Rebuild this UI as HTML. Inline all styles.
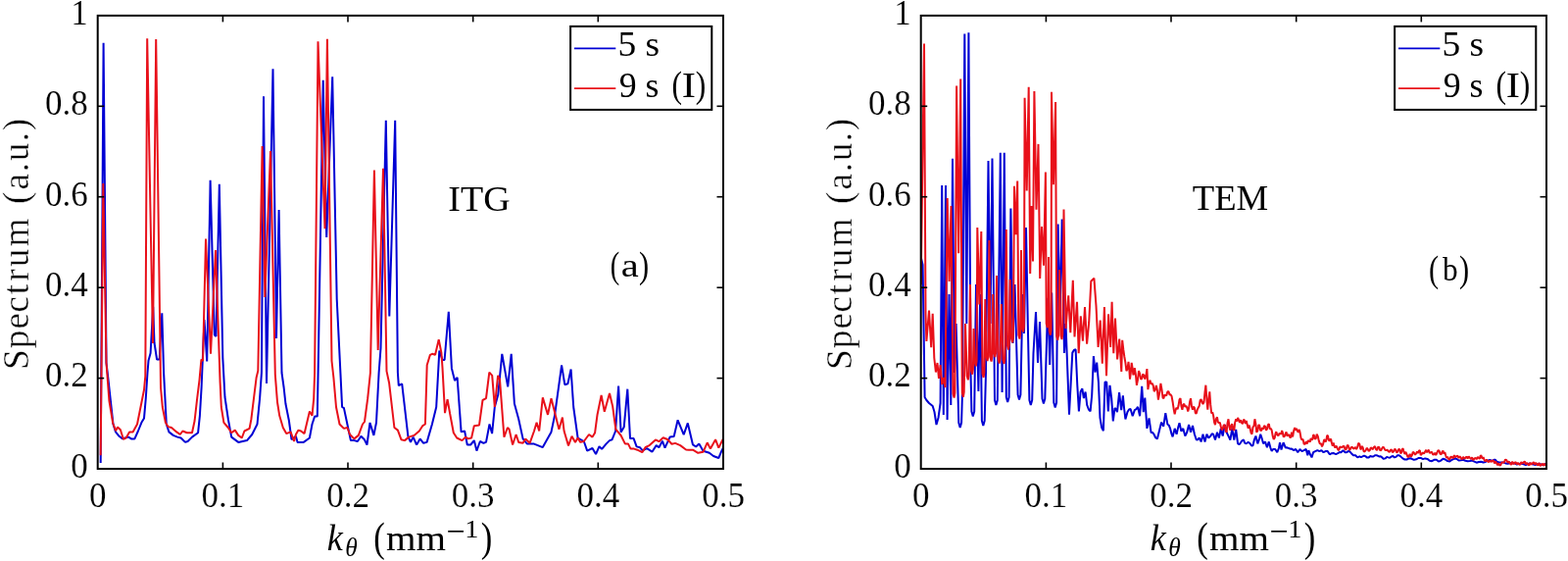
<!DOCTYPE html>
<html><head><meta charset="utf-8"><style>
html,body{margin:0;padding:0;background:#fff;width:1600px;height:572px;overflow:hidden}
svg{display:block}
.t{font-family:"Liberation Serif",serif;font-size:35px;fill:#000;stroke:#fff;stroke-width:0.15px}
.p{font-family:"Liberation Serif",serif;font-size:100px;fill:#000}
.q{font-family:"Liberation Serif",serif;font-size:100px;fill:#000;stroke:#fff;stroke-width:1.1px}
</style></head><body>
<svg width="1600" height="572" viewBox="0 0 1600 572">
<defs>
<clipPath id="c0"><rect x="99.7" y="15.9" width="638.3" height="462.1"/></clipPath>
<clipPath id="c840"><rect x="939.7" y="15.9" width="638.3" height="462.1"/></clipPath>
</defs>
<g clip-path="url(#c0)">
<polyline points="102.7,472.0 105.6,43.8 108.5,370.0 110.3,385.0 115.5,432.5 118.0,440.4 121.6,444.8 125.1,447.4 127.8,446.5 131.2,445.6 133.9,447.4 137.4,447.4 140.9,439.5 144.4,430.8 147.0,426.4 148.8,406.0 150.5,380.0 151.5,367.8 153.6,360.0 156.2,312.8 157.5,349.5 160.1,366.5 162.7,366.5 165.3,319.4 167.1,380.0 169.8,432.5 172.4,440.4 176.8,443.9 181.1,445.6 184.6,446.5 189.0,450.9 191.6,450.0 196.0,445.6 202.1,441.2 203.9,423.8 205.6,395.0 208.5,326.0 211.2,368.5 214.6,183.8 218.8,341.5 220.5,343.0 223.8,187.7 227.3,364.6 229.5,405.0 232.8,427.2 236.2,445.6 243.2,450.9 252.0,449.1 257.2,443.0 262.5,432.5 265.1,406.2 266.9,380.0 269.0,98.2 272.0,391.0 278.5,70.2 282.0,345.0 284.6,214.0 287.5,380.0 289.6,395.0 291.4,411.5 294.9,429.0 297.5,448.2 301.9,444.8 303.6,450.9 309.8,450.9 315.9,446.5 318.5,432.5 321.1,424.6 323.8,424.6 324.6,380.0 329.7,81.8 333.2,242.0 339.2,78.3 343.7,305.0 347.4,380.0 349.1,415.0 350.9,415.9 354.4,432.5 357.9,449.1 361.4,449.1 364.9,450.0 368.4,444.8 371.9,448.2 374.5,453.5 377.5,431.0 381.4,443.9 384.0,430.8 386.6,380.0 388.5,355.0 393.8,122.7 397.3,322.5 403.2,122.7 405.9,380.0 406.8,393.1 410.2,391.4 416.4,444.8 419.0,450.9 421.6,445.6 425.1,453.5 428.6,447.4 432.1,451.8 435.6,450.9 440.9,432.5 445.2,415.0 448.3,357.6 451.5,367.0 453.6,367.0 457.8,317.8 460.9,375.4 464.0,388.0 466.6,384.9 470.6,440.4 474.1,439.5 476.8,453.5 480.2,453.5 483.8,449.1 486.4,459.6 489.9,450.0 493.4,451.8 496.0,450.9 499.5,432.5 502.1,442.1 504.8,415.0 508.2,402.8 512.3,360.8 518.2,394.3 521.7,360.8 524.9,411.5 529.2,427.2 533.6,447.4 538.0,452.6 545.0,452.6 553.8,456.1 562.5,440.4 566.0,423.8 573.1,372.3 576.3,392.2 579.4,391.2 582.6,376.5 585.2,415.0 589.6,446.5 595.8,450.0 599.2,459.6 604.5,457.0 608.0,463.1 611.5,455.2 614.1,457.9 618.5,452.6 622.0,449.1 624.6,448.2 628.1,439.5 631.1,393.6 633.6,440.8 636.7,435.6 640.3,396.7 643.0,447.1 646.6,447.1 649.6,455.4 653.1,456.3 655.7,459.4 660.1,457.2 665.4,460.7 669.7,454.1 672.4,456.3 675.9,449.7 678.5,456.7 683.7,445.4 687.7,444.9 691.6,428.3 697.7,443.2 701.8,431.4 707.0,453.4 710.2,455.5 713.3,452.4 717.5,459.7 723.8,461.8 728.0,465.0 733.3,467.0 736.4,459.7 738.5,455.5" fill="none" stroke="#0000d4" stroke-width="2" stroke-linejoin="bevel"/>
<polyline points="102.7,464.2 105.3,187.0 108.5,370.0 111.4,408.5 115.2,431.5 118.1,439.2 120.0,435.4 122.9,438.3 126.0,448.0 128.6,446.5 132.1,440.4 135.6,440.4 140.0,432.5 143.5,415.0 147.0,397.5 148.3,383.5 150.2,39.2 156.0,350.0 159.2,40.1 164.0,395.0 165.8,415.0 168.9,430.8 171.5,435.1 175.0,436.0 180.2,440.4 183.8,443.0 186.4,439.5 190.8,441.2 196.0,441.2 198.6,429.0 201.2,406.2 203.5,387.7 205.4,366.5 207.0,368.0 210.0,243.5 215.0,360.8 220.0,255.0 224.6,390.0 225.8,415.0 228.4,430.8 232.8,436.0 236.2,441.2 239.8,438.6 243.2,443.9 246.8,446.5 249.4,439.5 254.6,436.9 256.4,427.2 259.0,406.2 261.6,385.0 263.3,378.0 267.6,148.9 270.3,303.0 276.0,154.1 280.8,381.8 283.0,410.0 285.2,423.8 288.8,436.0 292.2,442.1 296.6,440.4 300.1,450.0 301.9,443.0 304.5,438.6 307.1,439.5 310.6,442.1 315.9,419.4 318.5,423.8 320.2,406.2 321.1,380.0 324.5,42.2 331.5,233.2 333.9,39.8 338.5,368.0 340.4,385.0 343.0,415.0 346.5,432.5 350.9,436.9 354.4,436.0 357.0,443.0 361.4,447.4 365.8,443.9 370.0,432.5 372.0,430.0 375.2,406.2 377.9,380.0 381.9,173.5 385.7,357.0 391.0,171.7 394.5,378.4 397.1,390.5 402.4,436.0 405.9,438.6 409.4,448.2 412.9,449.1 417.2,445.6 422.5,443.9 427.8,439.5 431.2,434.2 433.9,432.5 435.7,372.3 438.9,361.8 441.0,360.8 444.1,361.8 447.7,346.1 450.4,359.7 451.5,375.0 454.0,421.1 456.6,407.1 459.2,422.0 462.8,441.2 466.2,446.5 471.5,449.1 475.0,445.6 477.6,447.4 481.1,446.5 483.8,434.2 489.0,433.4 492.5,408.0 496.0,406.2 499.3,379.6 502.2,382.8 504.8,415.0 508.1,382.8 510.0,387.0 514.4,445.6 517.9,436.0 519.6,437.8 523.1,453.5 526.6,443.0 529.2,450.9 533.6,451.8 536.2,447.4 540.6,451.8 545.0,439.5 547.6,430.8 550.2,439.5 553.8,405.4 559.0,422.9 562.5,406.2 566.9,423.8 570.4,437.8 573.9,425.5 575.6,439.5 580.0,454.4 583.5,444.8 587.0,450.9 589.6,446.5 592.2,450.9 595.8,450.0 601.0,443.0 604.5,445.6 607.1,441.2 609.5,423.0 613.6,403.0 616.8,419.8 622.0,401.0 625.2,414.6 628.3,437.7 633.6,444.0 637.8,452.4 640.9,452.4 643.5,457.6 647.0,457.6 650.4,458.7 655.3,461.1 658.8,455.9 662.7,454.1 668.9,448.4 672.4,450.2 676.7,446.2 681.1,448.0 685.5,452.8 689.0,451.9 694.2,454.1 700.0,458.5 702.9,458.7 707.0,458.7 712.3,461.8 717.5,460.8 721.7,451.3 724.9,457.6 730.1,448.2 733.3,456.6 737.5,448.2 738.5,447.0" fill="none" stroke="#e8101a" stroke-width="2" stroke-linejoin="bevel"/>
</g>
<rect x="99.7" y="15.9" width="638.3" height="462.1" fill="none" stroke="#000" stroke-width="2"/>
<text x="99.7" y="516.7" text-anchor="middle" class="t">0</text>
<line x1="227.4" y1="478.0" x2="227.4" y2="471.5" stroke="#000" stroke-width="1.6"/>
<line x1="227.4" y1="15.9" x2="227.4" y2="22.4" stroke="#000" stroke-width="1.6"/>
<text x="227.4" y="516.7" text-anchor="middle" class="t">0.1</text>
<line x1="355.0" y1="478.0" x2="355.0" y2="471.5" stroke="#000" stroke-width="1.6"/>
<line x1="355.0" y1="15.9" x2="355.0" y2="22.4" stroke="#000" stroke-width="1.6"/>
<text x="355.0" y="516.7" text-anchor="middle" class="t">0.2</text>
<line x1="482.7" y1="478.0" x2="482.7" y2="471.5" stroke="#000" stroke-width="1.6"/>
<line x1="482.7" y1="15.9" x2="482.7" y2="22.4" stroke="#000" stroke-width="1.6"/>
<text x="482.7" y="516.7" text-anchor="middle" class="t">0.3</text>
<line x1="610.3" y1="478.0" x2="610.3" y2="471.5" stroke="#000" stroke-width="1.6"/>
<line x1="610.3" y1="15.9" x2="610.3" y2="22.4" stroke="#000" stroke-width="1.6"/>
<text x="610.3" y="516.7" text-anchor="middle" class="t">0.4</text>
<text x="738.0" y="516.7" text-anchor="middle" class="t">0.5</text>
<text x="89.7" y="486.9" text-anchor="end" class="t">0</text>
<line x1="99.7" y1="385.6" x2="106.2" y2="385.6" stroke="#000" stroke-width="1.6"/>
<line x1="738.0" y1="385.6" x2="731.5" y2="385.6" stroke="#000" stroke-width="1.6"/>
<text x="89.7" y="394.4" text-anchor="end" class="t">0.2</text>
<line x1="99.7" y1="293.2" x2="106.2" y2="293.2" stroke="#000" stroke-width="1.6"/>
<line x1="738.0" y1="293.2" x2="731.5" y2="293.2" stroke="#000" stroke-width="1.6"/>
<text x="89.7" y="302.0" text-anchor="end" class="t">0.4</text>
<line x1="99.7" y1="200.7" x2="106.2" y2="200.7" stroke="#000" stroke-width="1.6"/>
<line x1="738.0" y1="200.7" x2="731.5" y2="200.7" stroke="#000" stroke-width="1.6"/>
<text x="89.7" y="209.6" text-anchor="end" class="t">0.6</text>
<line x1="99.7" y1="108.3" x2="106.2" y2="108.3" stroke="#000" stroke-width="1.6"/>
<line x1="738.0" y1="108.3" x2="731.5" y2="108.3" stroke="#000" stroke-width="1.6"/>
<text x="89.7" y="117.2" text-anchor="end" class="t">0.8</text>
<text x="89.7" y="24.7" text-anchor="end" class="t">1</text>
<rect x="582.1" y="26.9" width="144.2" height="85" fill="#fff" stroke="#000" stroke-width="2"/>
<line x1="586" y1="49.4" x2="628.3" y2="49.4" stroke="#0000d4" stroke-width="1.8"/>
<line x1="586" y1="90.2" x2="628.3" y2="90.2" stroke="#e8101a" stroke-width="1.8"/>
<g clip-path="url(#c840)">
<polyline points="939.7,262.0 941.6,270.0 943.6,405.0 945.4,408.0 948.0,411.0 951.7,414.0 953.5,420.0 955.5,433.0 957.5,426.0 959.6,411.0 961.2,188.9 962.8,423.0 965.0,188.9 966.6,428.0 968.5,300.0 970.3,413.0 972.0,161.7 974.0,380.0 975.6,330.0 978.3,431.0 979.7,436.0 981.1,431.0 982.0,400.0 984.3,34.4 986.3,330.0 988.4,33.2 990.5,380.0 991.4,419.5 992.8,424.5 994.2,419.5 996.0,290.0 998.4,399.0 1000.2,300.0 1001.9,429.0 1003.3,434.0 1004.7,429.0 1006.0,380.0 1008.5,164.0 1010.5,330.0 1012.5,161.5 1015.0,408.0 1016.4,413.0 1017.8,408.0 1020.8,155.8 1022.6,400.0 1024.8,155.8 1026.8,405.0 1028.2,410.0 1029.6,405.0 1031.4,212.5 1033.5,350.0 1035.5,290.0 1038.6,402.5 1040.0,407.5 1041.4,402.5 1043.5,300.0 1045.0,340.0 1047.0,232.0 1048.8,330.0 1050.4,408.0 1051.8,413.0 1053.2,408.0 1054.5,360.0 1057.0,318.0 1059.0,370.0 1061.0,328.0 1063.5,406.5 1064.9,411.5 1066.3,406.5 1069.3,303.7 1071.2,372.0 1073.2,298.4 1075.3,410.5 1076.7,415.5 1078.1,410.5 1079.6,228.5 1081.6,320.0 1083.7,223.6 1086.0,360.0 1087.5,330.0 1091.0,422.7 1092.6,392.2 1094.3,359.6 1096.0,356.9 1097.6,356.3 1099.3,392.8 1100.9,419.4 1102.6,399.5 1104.3,396.2 1105.9,406.1 1107.6,399.5 1109.2,412.8 1110.9,417.5 1112.6,419.4 1114.2,402.8 1115.9,363.0 1117.6,379.6 1119.2,369.6 1120.9,389.5 1122.5,426.1 1124.2,436.0 1125.9,439.3 1127.5,389.5 1129.2,389.5 1130.8,419.4 1132.5,392.8 1134.2,406.1 1135.8,429.4 1137.5,416.1 1138.7,417.1 1140.0,420.1 1142.1,400.2 1144.2,418.1 1145.9,403.4 1147.1,416.5 1148.4,427.5 1150.5,420.1 1152.1,417.4 1153.6,417.0 1155.7,424.3 1157.8,418.1 1159.4,417.2 1161.0,414.9 1163.1,424.3 1165.2,393.9 1166.8,420.1 1168.3,405.5 1170.4,436.9 1172.5,426.4 1174.6,441.1 1176.2,441.1 1177.7,443.2 1179.3,446.5 1180.9,447.4 1183.0,439.0 1185.1,430.6 1187.2,434.8 1189.3,421.2 1191.4,432.7 1192.7,433.5 1194.1,436.9 1195.3,441.8 1196.6,445.3 1198.7,436.9 1200.6,442.7 1202.1,436.1 1203.5,431.2 1205.4,439.8 1207.3,436.9 1209.3,444.6 1211.2,440.8 1213.1,433.1 1215.0,440.8 1217.0,434.0 1218.9,442.7 1220.8,448.5 1222.2,448.2 1223.7,446.5 1225.6,450.4 1227.5,442.7 1229.5,450.4 1231.4,442.7 1233.3,446.5 1235.2,444.6 1236.7,442.3 1238.1,442.7 1240.0,448.5 1242.0,440.8 1243.9,446.5 1245.8,436.9 1247.7,444.6 1249.7,433.1 1251.6,440.8 1253.5,444.6 1255.4,448.5 1257.3,436.9 1259.3,448.5 1261.2,437.9 1263.1,452.3 1264.6,453.1 1266.0,451.3 1267.4,449.3 1268.9,448.5 1270.3,451.9 1271.8,452.3 1273.7,450.8 1275.6,452.3 1277.1,454.5 1278.5,454.2 1279.9,448.3 1281.4,444.6 1283.3,452.3 1284.8,448.2 1286.2,442.7 1287.6,446.9 1289.1,452.3 1291.0,450.4 1292.9,456.2 1294.8,450.4 1296.3,456.3 1297.7,460.0 1299.1,458.0 1301.2,458.0 1303.3,461.2 1304.9,457.0 1306.0,451.2 1307.5,458.5 1309.6,451.2 1311.7,456.4 1313.3,456.3 1314.9,457.0 1316.5,457.7 1318.0,457.5 1320.1,459.1 1322.2,458.0 1324.3,461.2 1326.4,458.0 1328.5,460.1 1330.6,459.1 1332.7,458.0 1334.3,464.3 1335.3,459.1 1336.9,463.3 1338.5,466.4 1340.1,461.2 1342.2,460.1 1344.3,459.1 1346.4,460.1 1348.4,459.1 1350.5,461.2 1352.6,460.1 1354.7,460.1 1356.8,463.3 1358.9,462.2 1360.5,461.9 1362.1,462.7 1363.7,462.9 1365.2,462.2 1366.8,461.0 1368.4,461.2 1370.5,459.1 1372.6,461.2 1374.1,461.3 1375.7,460.1 1377.3,460.3 1378.9,462.2 1381.0,464.3 1383.1,464.3 1385.2,466.4 1387.3,465.4 1388.8,466.1 1390.4,465.4 1392.0,464.6 1393.6,465.4 1395.1,466.6 1396.7,466.4 1398.3,465.1 1399.8,465.4 1401.4,465.5 1403.0,464.3 1405.1,464.3 1407.2,465.4 1408.8,465.3 1410.3,466.4 1411.9,467.9 1413.5,467.4 1415.1,465.9 1416.6,466.4 1418.2,466.8 1419.8,465.4 1421.4,465.1 1422.9,466.4 1424.5,465.9 1426.1,464.3 1427.6,464.3 1429.2,465.4 1431.3,467.4 1433.4,468.5 1435.5,468.5 1437.6,467.4 1439.1,467.2 1440.6,467.8 1442.8,468.9 1445.1,468.3 1447.4,467.0 1449.7,466.9 1452.0,468.1 1454.2,467.4 1456.5,467.9 1458.8,469.7 1461.1,470.2 1463.4,468.8 1465.7,468.8 1467.9,470.6 1470.2,469.6 1472.5,467.8 1474.8,468.5 1477.1,470.1 1479.3,470.4 1481.6,468.8 1483.9,467.6 1486.2,467.8 1488.5,469.5 1490.7,469.2 1493.0,468.8 1495.3,469.7 1497.6,470.3 1499.9,470.1 1502.1,469.6 1504.4,470.6 1506.7,471.7 1509.0,471.0 1511.3,470.7 1513.6,471.5 1515.8,471.0 1518.1,469.7 1520.2,468.8 1522.4,470.0 1524.5,468.8 1525.9,468.8 1527.2,470.6 1529.5,471.5 1531.8,471.5 1534.1,471.4 1536.4,472.4 1538.6,472.8 1540.9,472.2 1543.2,471.9 1545.5,472.4 1547.8,473.5 1550.1,472.9 1552.3,472.6 1554.6,473.3 1556.9,474.0 1559.2,473.1 1561.5,472.6 1563.7,473.3 1566.0,473.9 1568.3,473.5 1570.6,472.8 1572.9,473.7 1574.7,474.2 1576.5,473.0 1578.3,473.8" fill="none" stroke="#0000d4" stroke-width="2" stroke-linejoin="bevel"/>
<polyline points="939.7,290.0 943.0,44.6 944.5,320.0 945.4,348.0 948.0,316.6 950.2,354.3 951.7,319.7 953.3,365.0 954.9,379.5 956.5,370.0 958.0,385.8 959.6,372.0 961.2,392.0 962.8,385.0 964.5,395.0 966.7,202.0 968.6,287.1 970.5,210.0 972.5,401.5 973.6,405.5 974.4,400.5 976.1,87.6 978.2,258.3 980.2,80.6 981.8,400.8 982.9,404.8 983.7,399.8 985.0,330.0 986.7,383.3 987.8,387.3 988.6,382.3 990.0,290.0 991.0,377.7 992.1,381.7 992.9,376.7 993.6,335.0 994.7,369.4 995.8,373.4 996.6,368.4 997.3,232.0 999.3,310.4 1001.3,236.0 1002.5,380.9 1003.6,384.9 1004.4,379.9 1005.3,305.0 1006.5,364.0 1007.6,368.0 1008.4,363.0 1009.4,245.0 1010.5,364.6 1011.6,368.6 1012.4,363.6 1013.2,300.0 1014.3,360.1 1015.4,364.1 1016.2,359.1 1017.0,281.0 1018.6,366.5 1019.7,370.5 1020.5,365.5 1021.8,310.0 1023.5,366.9 1024.6,370.9 1025.4,365.9 1026.8,234.0 1028.0,352.6 1029.0,356.6 1029.8,351.6 1030.7,285.0 1032.0,345.3 1033.1,349.3 1033.9,344.3 1035.0,189.8 1036.6,239.2 1038.2,184.5 1039.3,341.5 1040.4,345.5 1041.2,340.5 1042.0,255.0 1043.0,334.4 1044.1,338.4 1044.9,333.4 1045.6,99.8 1047.7,194.6 1049.7,88.8 1051.2,279.1 1052.6,210.0 1054.0,266.4 1055.4,92.9 1057.5,213.8 1059.5,146.9 1061.2,283.9 1063.0,231.0 1065.0,270.7 1066.9,175.5 1067.7,330.1 1068.8,334.1 1069.5,329.1 1070.0,262.0 1070.7,337.7 1071.8,341.7 1072.6,336.7 1073.0,93.7 1075.0,188.2 1077.1,103.9 1078.2,342.8 1079.3,346.8 1080.1,341.8 1081.0,275.0 1082.5,342.1 1083.5,346.1 1084.3,341.1 1085.5,213.4 1087.5,335.0 1090.2,301.4 1092.3,339.2 1094.8,285.7 1096.5,343.4 1099.0,307.7 1100.7,360.1 1102.8,322.4 1104.9,347.6 1107.0,313.0 1109.1,350.7 1111.2,328.7 1113.3,286.8 1116.4,283.6 1118.5,311.9 1120.6,353.9 1122.7,326.6 1124.8,370.6 1126.9,313.0 1129.0,383.2 1131.1,320.3 1133.2,353.9 1134.6,307.7 1136.3,360.1 1138.0,324.5 1140.1,366.4 1141.1,357.9 1142.2,345.5 1143.2,360.5 1144.3,379.0 1145.2,346.8 1146.3,356.4 1147.3,363.5 1148.4,369.8 1149.4,378.2 1150.5,376.0 1151.5,368.8 1152.3,376.3 1153.0,386.6 1153.8,380.4 1154.7,369.8 1155.5,374.7 1156.4,382.4 1157.1,381.1 1157.8,375.1 1158.9,382.0 1159.9,392.9 1161.0,387.1 1162.0,378.2 1163.1,381.1 1164.1,386.6 1165.2,386.1 1166.2,381.4 1167.3,382.8 1168.3,386.6 1169.4,382.8 1170.4,376.1 1171.4,397.1 1172.5,390.5 1173.5,387.7 1174.6,391.6 1175.6,390.8 1176.7,393.0 1177.7,399.2 1178.8,397.5 1179.8,392.9 1180.9,397.8 1181.9,407.6 1183.2,400.5 1184.4,390.8 1185.5,397.1 1186.5,405.5 1187.4,406.2 1188.4,402.3 1189.3,403.4 1190.3,403.1 1191.4,399.3 1192.4,399.2 1193.5,402.4 1194.5,402.3 1195.6,404.1 1196.6,409.7 1197.7,417.2 1198.7,422.2 1199.7,417.4 1200.6,415.8 1201.6,417.2 1202.5,413.8 1203.5,407.4 1204.5,406.2 1205.4,414.0 1206.4,417.7 1207.3,412.7 1208.3,411.9 1209.3,414.8 1210.2,413.8 1211.2,415.5 1212.2,419.6 1213.1,416.2 1214.1,409.6 1215.0,406.2 1216.0,414.4 1217.0,417.7 1217.9,414.6 1218.9,415.8 1219.8,421.2 1220.8,421.5 1221.8,417.6 1222.7,415.8 1223.7,414.0 1224.7,408.1 1225.6,407.2 1226.6,410.0 1227.5,412.2 1228.5,410.0 1229.5,399.8 1230.4,392.7 1231.4,407.8 1232.3,417.7 1233.3,407.4 1234.3,399.4 1235.2,412.4 1236.2,421.5 1237.2,420.3 1238.1,423.5 1239.1,430.7 1240.0,433.1 1241.0,427.0 1242.0,425.4 1242.9,430.4 1243.9,431.2 1244.8,430.8 1245.8,435.0 1246.8,438.4 1247.7,436.9 1248.7,433.4 1249.7,433.1 1250.6,439.0 1251.6,440.8 1252.5,431.6 1253.5,427.3 1254.5,435.5 1255.4,438.8 1256.4,433.8 1257.3,432.1 1258.3,437.8 1259.3,438.8 1260.2,430.7 1261.2,427.3 1262.2,429.6 1263.1,425.9 1264.1,428.3 1265.0,430.9 1266.0,428.2 1267.0,431.2 1267.9,432.2 1268.9,428.1 1269.8,428.3 1270.8,431.9 1271.8,428.9 1272.7,433.1 1273.7,436.8 1274.7,433.5 1275.6,436.9 1276.6,441.5 1277.5,442.7 1278.5,435.4 1279.5,434.4 1280.4,427.3 1281.4,432.3 1282.3,440.8 1283.3,439.3 1284.3,433.1 1285.2,433.8 1286.2,439.1 1287.2,438.8 1288.1,436.2 1289.1,437.6 1290.0,434.0 1291.0,434.7 1292.0,438.8 1292.9,437.4 1293.9,433.1 1294.8,432.2 1295.8,437.5 1296.8,436.9 1297.7,438.8 1298.7,444.6 1299.7,448.0 1300.7,446.5 1301.5,442.1 1302.3,440.2 1303.3,443.2 1304.4,444.4 1305.4,442.0 1306.5,442.3 1307.3,442.5 1308.1,439.1 1308.9,441.1 1309.6,445.4 1310.7,445.0 1311.7,442.3 1312.6,440.5 1313.5,444.7 1314.4,443.3 1315.4,443.4 1316.5,446.5 1317.2,445.6 1318.0,440.7 1319.1,445.4 1320.1,439.4 1321.2,436.0 1322.0,438.8 1322.9,436.9 1323.8,439.1 1324.7,440.9 1325.5,437.9 1326.4,440.2 1327.5,446.5 1328.5,448.6 1329.6,447.9 1330.6,452.8 1331.7,452.8 1332.7,450.3 1333.8,452.5 1334.8,449.3 1335.9,449.6 1336.7,450.8 1337.6,446.9 1338.5,448.6 1339.3,447.9 1340.1,443.3 1340.8,443.6 1341.6,447.5 1342.7,447.3 1343.7,442.8 1344.8,445.0 1345.8,449.6 1346.9,452.6 1347.9,452.0 1349.0,455.4 1350.0,453.2 1351.1,448.6 1351.9,448.5 1352.6,450.7 1353.4,448.7 1354.2,443.8 1355.0,444.5 1355.8,448.6 1356.6,449.6 1357.4,447.5 1358.2,448.3 1358.9,451.7 1359.8,454.8 1360.7,451.6 1361.6,454.9 1362.4,456.7 1363.3,454.6 1364.2,455.9 1365.2,458.4 1366.3,459.1 1367.3,455.5 1368.4,455.9 1369.4,456.3 1370.5,454.9 1371.5,454.9 1372.6,458.5 1373.6,458.1 1374.7,454.3 1375.5,453.8 1376.2,455.9 1377.0,458.9 1377.8,458.0 1378.9,456.1 1379.9,455.9 1381.0,457.5 1382.0,457.0 1383.1,456.0 1384.1,458.0 1385.2,455.8 1386.2,451.7 1387.3,452.9 1388.3,458.0 1389.1,457.6 1389.9,454.9 1390.7,456.4 1391.5,460.1 1392.5,460.5 1393.6,459.1 1394.6,456.8 1395.7,458.0 1396.7,460.0 1397.8,459.1 1398.8,456.3 1399.8,457.0 1400.9,458.2 1401.9,455.9 1403.0,455.0 1404.0,458.0 1405.1,459.1 1406.1,455.9 1407.2,455.7 1408.2,459.1 1409.3,459.2 1410.3,457.0 1411.4,455.5 1412.4,457.0 1413.5,459.1 1414.5,459.1 1415.6,458.7 1416.6,460.1 1417.7,461.1 1418.7,459.1 1419.8,458.3 1420.8,461.2 1421.9,460.7 1422.9,458.0 1424.0,458.3 1425.0,461.2 1426.1,460.9 1427.1,458.0 1428.2,458.3 1429.2,462.2 1430.0,461.7 1430.8,458.0 1431.6,457.4 1432.4,460.1 1433.4,463.0 1434.5,460.8 1435.5,463.3 1436.6,466.2 1437.6,465.4 1438.7,462.9 1439.7,465.6 1440.8,464.3 1441.8,460.8 1442.8,461.5 1444.0,463.7 1445.1,462.4 1446.0,460.4 1446.9,462.0 1447.9,459.6 1448.8,459.1 1449.7,464.1 1450.6,463.3 1451.8,461.4 1453.0,462.6 1454.2,460.5 1455.2,458.8 1456.1,461.3 1457.0,459.6 1457.9,458.7 1458.8,461.9 1459.7,461.5 1460.9,460.8 1462.2,463.5 1463.4,463.3 1464.3,461.6 1465.2,464.1 1466.1,462.4 1467.2,459.5 1468.4,459.2 1469.5,462.6 1470.7,463.3 1471.6,460.6 1472.5,459.6 1473.4,462.7 1474.3,461.1 1475.2,464.2 1476.1,467.0 1477.1,465.5 1478.0,467.8 1479.2,468.6 1480.4,465.7 1481.6,466.0 1482.8,467.3 1483.9,464.1 1485.0,466.3 1486.2,465.1 1487.3,464.8 1488.5,467.1 1489.6,465.3 1490.7,466.9 1491.9,468.3 1493.0,465.8 1494.2,467.6 1495.3,466.9 1496.4,465.5 1497.6,467.6 1498.7,465.5 1499.9,466.9 1501.0,468.0 1502.1,466.4 1503.3,469.0 1504.4,467.8 1505.6,466.8 1506.7,468.2 1507.9,466.0 1509.0,466.9 1509.9,467.7 1510.8,464.3 1511.7,465.1 1512.6,467.6 1513.6,466.0 1514.5,468.8 1515.7,470.5 1516.9,468.4 1518.1,470.6 1519.3,471.1 1520.4,469.3 1521.5,471.0 1522.7,469.7 1523.8,469.4 1525.0,472.4 1526.1,470.5 1527.2,472.4 1528.2,474.2 1529.1,472.2 1530.0,474.2 1531.2,474.5 1532.4,471.5 1533.6,471.5 1534.8,471.7 1536.1,468.5 1537.3,469.2 1538.5,471.8 1539.7,470.5 1540.9,472.4 1542.1,473.8 1543.2,470.6 1544.3,473.2 1545.5,472.0 1546.6,471.1 1547.8,473.5 1548.9,471.8 1550.1,473.3 1551.2,474.0 1552.3,471.2 1553.5,472.6 1554.6,471.5 1555.8,470.4 1556.9,473.5 1558.0,471.8 1559.2,473.3 1560.3,474.5 1561.5,471.7 1562.6,473.7 1563.7,472.4 1564.9,471.3 1566.0,473.6 1567.2,471.9 1568.3,473.3 1569.4,474.5 1570.6,472.0 1571.7,475.2 1572.9,473.8 1574.0,472.8 1575.1,474.7 1576.1,472.7 1577.2,474.5 1578.3,473.3" fill="none" stroke="#e8101a" stroke-width="2" stroke-linejoin="bevel"/>
</g>
<rect x="939.7" y="15.9" width="638.3" height="462.1" fill="none" stroke="#000" stroke-width="2"/>
<text x="939.7" y="516.7" text-anchor="middle" class="t">0</text>
<line x1="1067.4" y1="478.0" x2="1067.4" y2="471.5" stroke="#000" stroke-width="1.6"/>
<line x1="1067.4" y1="15.9" x2="1067.4" y2="22.4" stroke="#000" stroke-width="1.6"/>
<text x="1067.4" y="516.7" text-anchor="middle" class="t">0.1</text>
<line x1="1195.0" y1="478.0" x2="1195.0" y2="471.5" stroke="#000" stroke-width="1.6"/>
<line x1="1195.0" y1="15.9" x2="1195.0" y2="22.4" stroke="#000" stroke-width="1.6"/>
<text x="1195.0" y="516.7" text-anchor="middle" class="t">0.2</text>
<line x1="1322.7" y1="478.0" x2="1322.7" y2="471.5" stroke="#000" stroke-width="1.6"/>
<line x1="1322.7" y1="15.9" x2="1322.7" y2="22.4" stroke="#000" stroke-width="1.6"/>
<text x="1322.7" y="516.7" text-anchor="middle" class="t">0.3</text>
<line x1="1450.3" y1="478.0" x2="1450.3" y2="471.5" stroke="#000" stroke-width="1.6"/>
<line x1="1450.3" y1="15.9" x2="1450.3" y2="22.4" stroke="#000" stroke-width="1.6"/>
<text x="1450.3" y="516.7" text-anchor="middle" class="t">0.4</text>
<text x="1578.0" y="516.7" text-anchor="middle" class="t">0.5</text>
<text x="929.7" y="486.9" text-anchor="end" class="t">0</text>
<line x1="939.7" y1="385.6" x2="946.2" y2="385.6" stroke="#000" stroke-width="1.6"/>
<line x1="1578.0" y1="385.6" x2="1571.5" y2="385.6" stroke="#000" stroke-width="1.6"/>
<text x="929.7" y="394.4" text-anchor="end" class="t">0.2</text>
<line x1="939.7" y1="293.2" x2="946.2" y2="293.2" stroke="#000" stroke-width="1.6"/>
<line x1="1578.0" y1="293.2" x2="1571.5" y2="293.2" stroke="#000" stroke-width="1.6"/>
<text x="929.7" y="302.0" text-anchor="end" class="t">0.4</text>
<line x1="939.7" y1="200.7" x2="946.2" y2="200.7" stroke="#000" stroke-width="1.6"/>
<line x1="1578.0" y1="200.7" x2="1571.5" y2="200.7" stroke="#000" stroke-width="1.6"/>
<text x="929.7" y="209.6" text-anchor="end" class="t">0.6</text>
<line x1="939.7" y1="108.3" x2="946.2" y2="108.3" stroke="#000" stroke-width="1.6"/>
<line x1="1578.0" y1="108.3" x2="1571.5" y2="108.3" stroke="#000" stroke-width="1.6"/>
<text x="929.7" y="117.2" text-anchor="end" class="t">0.8</text>
<text x="929.7" y="24.7" text-anchor="end" class="t">1</text>
<rect x="1423.1" y="26.9" width="144.2" height="85" fill="#fff" stroke="#000" stroke-width="2"/>
<line x1="1427.0" y1="49.4" x2="1469.3" y2="49.4" stroke="#0000d4" stroke-width="1.8"/>
<line x1="1427.0" y1="90.2" x2="1469.3" y2="90.2" stroke="#e8101a" stroke-width="1.8"/>
<text class="q" x="-0.01 58.40 111.21 155.61 205.56 241.85 280.90 336.46 421.15 453.10 492.01 540.60 569.80 624.00 653.20" y="0" transform="matrix(0 -0.37300 0.37600 0 28.50 376.90)">Spectrum (a.u.)</text>
<text class="p" font-style="italic" transform="matrix(0.36279 0 0 0.36957 333.81 561.20)">k</text>
<text class="p" font-style="italic" transform="matrix(0.25476 0 0 0.27746 352.13 566.62)">θ</text>
<text class="p" transform="matrix(0.34615 0 0 0.42000 381.22 561.78)">(</text>
<text class="p" transform="matrix(0.39211 0 0 0.35957 394.12 561.20)">mm</text>
<text class="p" transform="matrix(0.34043 0 0 0.34043 455.30 552.95)">−</text>
<text class="p" transform="matrix(0.28286 0 0 0.26061 474.15 548.00)">1</text>
<text class="p" transform="matrix(0.34615 0 0 0.42000 490.86 561.78)">)</text>
<text class="p" transform="matrix(0.37404 0 0 0.35000 630.56 57.35)">5 s</text>
<text class="p" transform="matrix(0.35701 0 0 0.35455 631.83 98.85)">9 s</text>
<text class="p" transform="matrix(0.31538 0 0 0.37444 685.54 98.74)">(</text>
<text class="p" transform="matrix(0.42692 0 0 0.36000 695.69 98.80)">I</text>
<text class="p" transform="matrix(0.31538 0 0 0.37444 709.65 98.74)">)</text>
<text class="q" x="-0.01 58.40 111.21 155.61 205.56 241.85 280.90 336.46 421.15 453.10 492.01 540.60 569.80 624.00 653.20" y="0" transform="matrix(0 -0.37300 0.37600 0 868.50 376.90)">Spectrum (a.u.)</text>
<text class="p" font-style="italic" transform="matrix(0.36279 0 0 0.36957 1173.81 561.20)">k</text>
<text class="p" font-style="italic" transform="matrix(0.25476 0 0 0.27746 1192.13 566.62)">θ</text>
<text class="p" transform="matrix(0.34615 0 0 0.42000 1221.22 561.78)">(</text>
<text class="p" transform="matrix(0.39211 0 0 0.35957 1234.12 561.20)">mm</text>
<text class="p" transform="matrix(0.34043 0 0 0.34043 1295.30 552.95)">−</text>
<text class="p" transform="matrix(0.28286 0 0 0.26061 1314.15 548.00)">1</text>
<text class="p" transform="matrix(0.34615 0 0 0.42000 1330.86 561.78)">)</text>
<text class="p" transform="matrix(0.37404 0 0 0.35000 1471.56 57.35)">5 s</text>
<text class="p" transform="matrix(0.35701 0 0 0.35455 1472.83 98.85)">9 s</text>
<text class="p" transform="matrix(0.31538 0 0 0.37444 1526.54 98.74)">(</text>
<text class="p" transform="matrix(0.42692 0 0 0.36000 1536.69 98.80)">I</text>
<text class="p" transform="matrix(0.31538 0 0 0.37444 1550.65 98.74)">)</text>
<text class="p" transform="matrix(0.38000 0 0 0.36567 457.28 214.67)">ITG</text>
<text class="p" transform="matrix(0.36699 0 0 0.36000 1216.77 213.70)">TEM</text>
<text class="p" transform="matrix(0.28462 0 0 0.38333 622.86 283.05)">(</text>
<text class="p" transform="matrix(0.40513 0 0 0.32708 633.68 281.97)">a</text>
<text class="p" transform="matrix(0.30385 0 0 0.38333 651.89 283.05)">)</text>
<text class="p" transform="matrix(0.30385 0 0 0.37889 1457.98 287.04)">(</text>
<text class="p" transform="matrix(0.31304 0 0 0.33143 1471.90 285.97)">b</text>
<text class="p" transform="matrix(0.30385 0 0 0.37889 1488.89 287.04)">)</text>
</svg></body></html>
